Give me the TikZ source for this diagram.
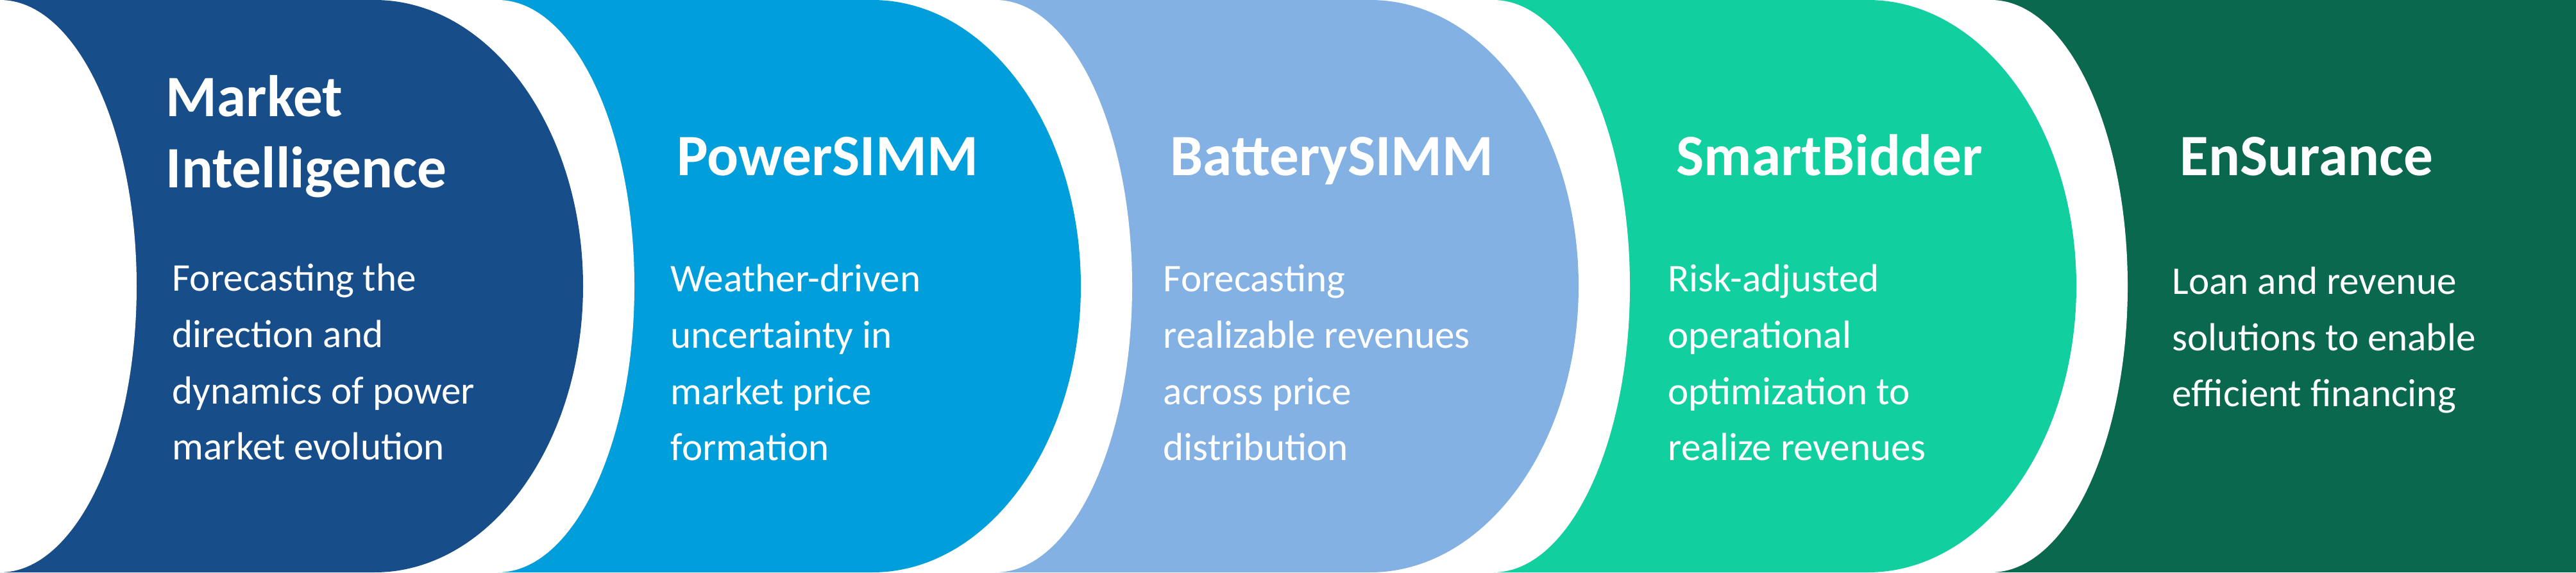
\documentclass[tikz,border=0pt]{standalone}
\usepackage{fontspec}
\setmainfont{Carlito}
\definecolor{segA}{RGB}{23,78,137}
\definecolor{segB}{RGB}{0,158,219}
\definecolor{segC}{RGB}{132,177,227}
\definecolor{segD}{RGB}{17,207,158}
\definecolor{segE}{RGB}{9,104,77}
\begin{document}
\begin{tikzpicture}[
    every node/.append style={text=white, inner sep=0pt},
    title/.style={anchor=base west, align=left, font=\fontsize{26}{31.6}\selectfont\bfseries},
    desc/.style={anchor=base west, align=left, font=\fontsize{17.4}{25}\selectfont}
]
    \useasboundingbox[fill=white] (0,0) rectangle (40.16,8.92);

    % Segmente von rechts nach links
    \fill[segE] (31.04,0) rectangle (40.16,8.92);
    \fill[white] (31.04,4.46) ellipse [x radius=2.13, y radius=4.46];
    \foreach \i/\col in {3/segD, 2/segC, 1/segB, 0/segA} {
        \fill[\col] (7.76*\i,0) -- (7.76*\i,8.92) -- (7.76*\i+5.84,8.92)
            arc[start angle=90, end angle=-90, x radius=3.25, y radius=4.46] -- cycle;
        \fill[white] (7.76*\i,4.46) ellipse [x radius=2.13, y radius=4.46];
    }

    % Titel
    \node[title] (tMarket) at (2.58,5.99) {Market\\Intelligence};
    \node[title] (tPower) at (10.55,6.18) {PowerSIMM};
    \node[title] (tBattery) at (18.24,6.18) {BatterySIMM};
    \node[title] (tSmart) at (26.13,6.18) {SmartBidder};
    \node[title] (tEns) at (33.98,6.18) {EnSurance};

    % Beschreibungen
    \node[desc] (dMarket) at (2.68,1.75) {Forecasting the\\direction and\\dynamics of power\\market evolution};
    \node[desc] (dPower) at (10.45,1.74) {Weather-driven\\uncertainty in\\market price\\formation};
    \node[desc] (dBattery) at (18.13,1.74) {Forecasting\\realizable revenues\\across price\\distribution};
    \node[desc] (dSmart) at (26.00,1.74) {Risk-adjusted\\operational\\optimization to\\realize revenues};
    \node[desc] (dEns) at (33.86,2.58) {Loan and revenue\\solutions to enable\\efficient financing};
\end{tikzpicture}
\end{document}
